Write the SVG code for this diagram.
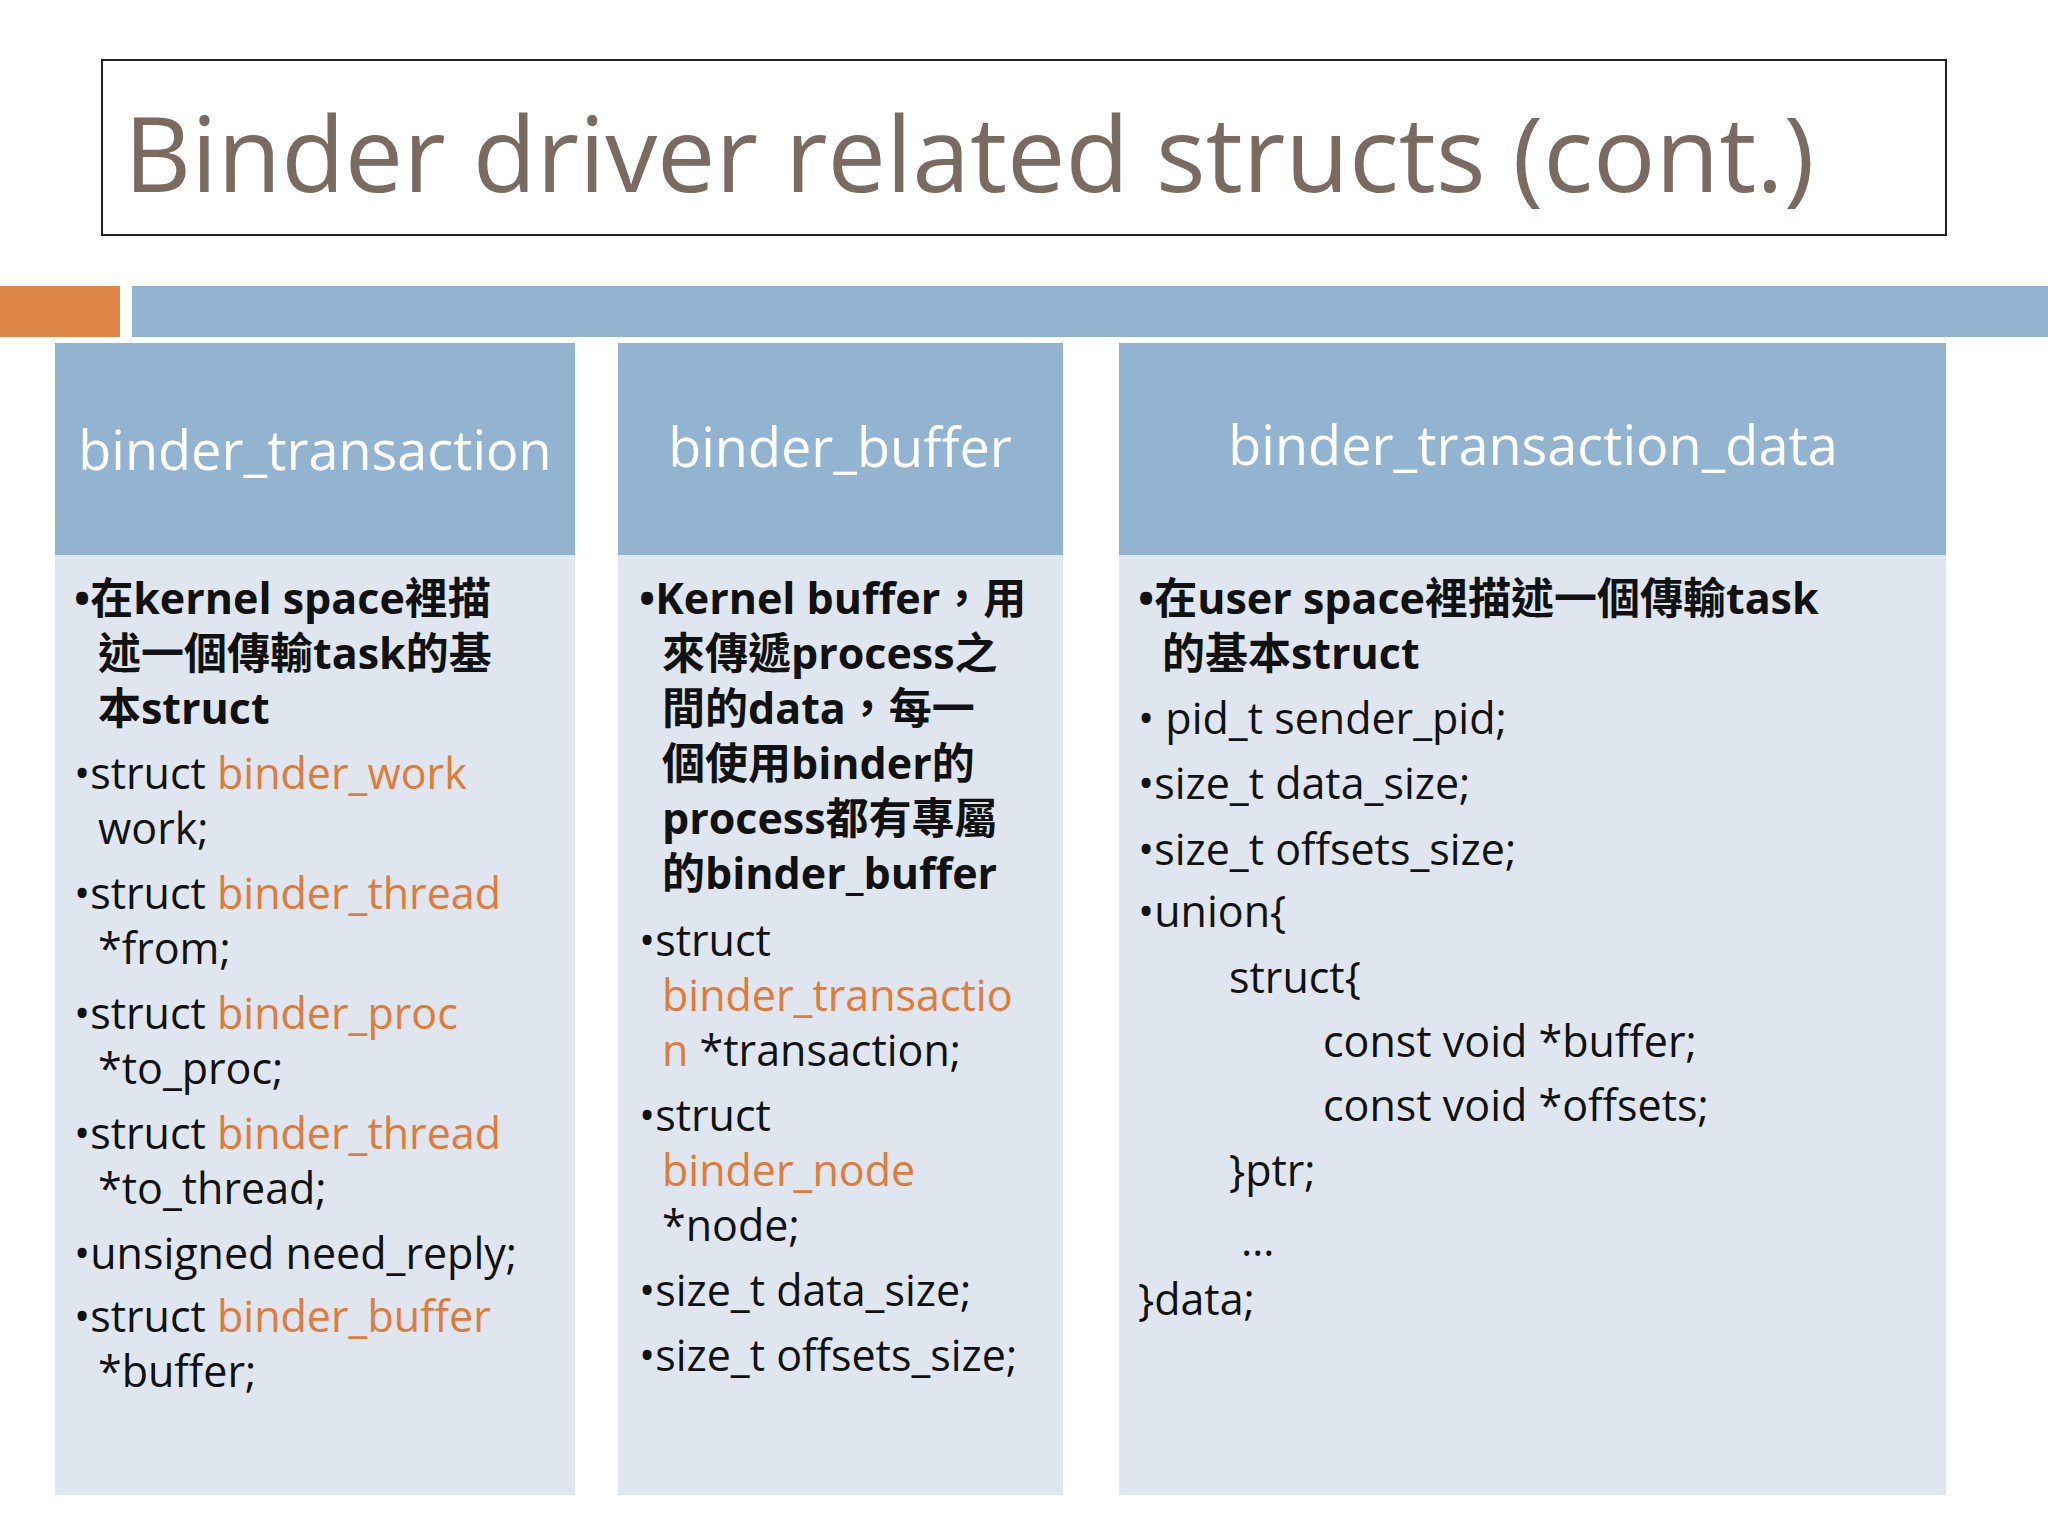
<svg xmlns="http://www.w3.org/2000/svg" width="2048" height="1536" viewBox="0 0 2048 1536">
<style>
.hd{fill:#93b4d1}.bd{fill:#dfe6ef}
.ht{font-family:"Open Sans","Noto Sans",sans-serif;font-size:54px;fill:#fff;text-anchor:middle}
.t{font-family:"Open Sans","Noto Sans","Noto Sans CJK TC",sans-serif;font-size:43px;fill:#111}
.b{font-weight:bold}
.o{fill:#e07b39}
</style>
<rect width="2048" height="1536" fill="#fff"/>
<g id="title">
<rect x="102" y="60" width="1844" height="175" fill="#fff" stroke="#222" stroke-width="2"/>
<text x="124" y="192" font-family="Open Sans, Noto Sans, sans-serif" font-size="104" fill="#7a6a60">Binder driver related structs (cont.)</text>
</g>
<rect x="0" y="286" width="120" height="51" fill="#dd8447"/>
<rect x="132" y="286" width="1916" height="51" fill="#93b4d1"/>
<g id="col1">
<rect class="hd" x="55" y="343" width="520" height="212"/>
<rect class="bd" x="55" y="555" width="520" height="940"/>
<text class="ht" x="315" y="470">binder_transaction</text>
<g class="t">
<text class="b" x="74" y="614">•在kernel space裡描</text>
<text class="b" x="98" y="669">述一個傳輸task的基</text>
<text class="b" x="98" y="724">本struct</text>
<text x="74" y="789">•struct <tspan class="o">binder_work</tspan></text>
<text x="98" y="844">work;</text>
<text x="74" y="909">•struct <tspan class="o">binder_thread</tspan></text>
<text x="98" y="964">*from;</text>
<text x="74" y="1029">•struct <tspan class="o">binder_proc</tspan></text>
<text x="98" y="1084">*to_proc;</text>
<text x="74" y="1149">•struct <tspan class="o">binder_thread</tspan></text>
<text x="98" y="1204">*to_thread;</text>
<text x="74" y="1269">•unsigned need_reply;</text>
<text x="74" y="1332">•struct <tspan class="o">binder_buffer</tspan></text>
<text x="98" y="1387">*buffer;</text>
</g>
</g>
<g id="col2">
<rect class="hd" x="618" y="343" width="445" height="212"/>
<rect class="bd" x="618" y="555" width="445" height="940"/>
<text class="ht" x="840" y="467">binder_buffer</text>
<g class="t">
<text class="b" x="639" y="614">•Kernel buffer，用</text>
<text class="b" x="662" y="669">來傳遞process之</text>
<text class="b" x="662" y="724">間的data，每一</text>
<text class="b" x="662" y="779">個使用binder的</text>
<text class="b" x="662" y="834">process都有專屬</text>
<text class="b" x="662" y="889">的binder_buffer</text>
<text x="639" y="956">•struct</text>
<text class="o" x="662" y="1011">binder_transactio</text>
<text x="662" y="1066"><tspan class="o">n</tspan> *transaction;</text>
<text x="639" y="1131">•struct</text>
<text class="o" x="662" y="1186">binder_node</text>
<text x="662" y="1241">*node;</text>
<text x="639" y="1306">•size_t data_size;</text>
<text x="639" y="1371">•size_t offsets_size;</text>
</g>
</g>
<g id="col3">
<rect class="hd" x="1119" y="343" width="827" height="212"/>
<rect class="bd" x="1119" y="555" width="827" height="940"/>
<text class="ht" x="1533" y="465">binder_transaction_data</text>
<g class="t">
<text class="b" x="1138" y="614">•在user space裡描述一個傳輸task</text>
<text class="b" x="1162" y="669">的基本struct</text>
<text x="1138" y="734">• pid_t sender_pid;</text>
<text x="1138" y="799">•size_t data_size;</text>
<text x="1138" y="865">•size_t offsets_size;</text>
<text x="1138" y="927">•union{</text>
<text x="1229" y="993">struct{</text>
<text x="1323" y="1057">const void *buffer;</text>
<text x="1323" y="1121">const void *offsets;</text>
<text x="1229" y="1186">}ptr;</text>
<text x="1241" y="1256">…</text>
<text x="1138" y="1315">}data;</text>
</g>
</g>
</svg>
